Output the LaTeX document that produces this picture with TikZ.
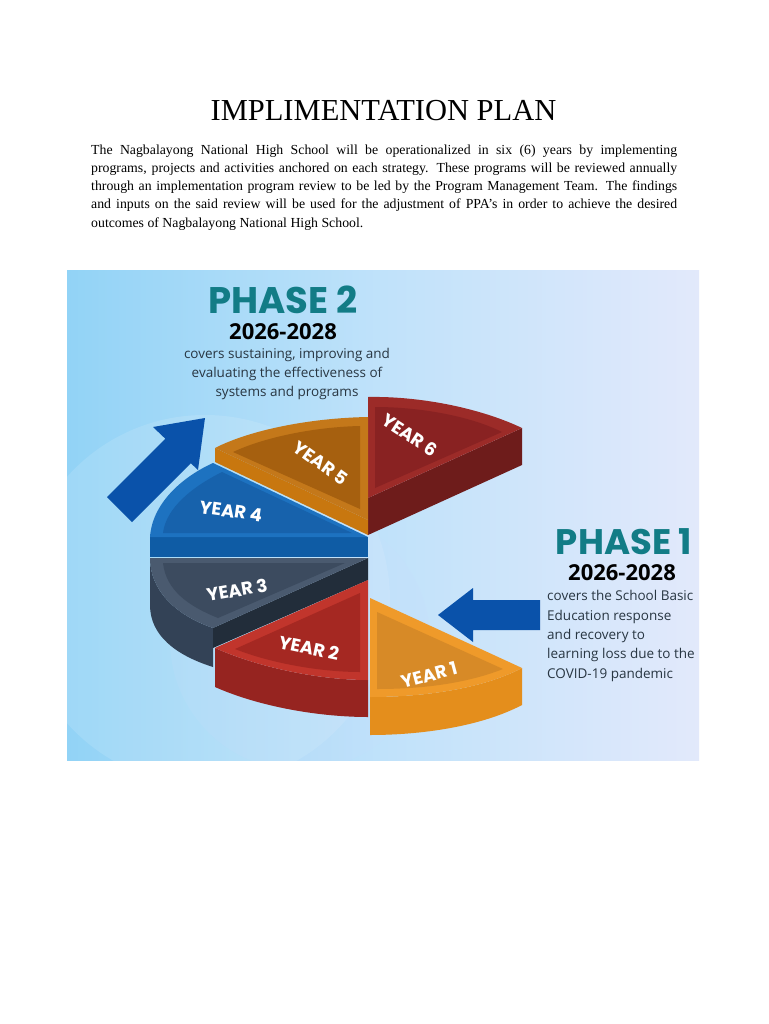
\documentclass[tikz,border=0pt]{standalone}
\usepackage{fontspec}
\setmainfont{Liberation Serif}
\newfontfamily\popfont{Poppins}
\newfontfamily\osfont{Open Sans}
\definecolor{teal2}{RGB}{18,124,134}
\definecolor{bgL}{RGB}{146,211,246}
\definecolor{bgM}{RGB}{192,226,250}
\definecolor{bgR}{RGB}{226,233,251}
\definecolor{arrowblue}{RGB}{10,82,170}
\definecolor{desc}{RGB}{40,54,66}
% pie colours
\definecolor{ysixrim}{RGB}{156,43,40}
\definecolor{ysixtop}{RGB}{137,34,34}
\definecolor{ysixside}{RGB}{110,28,27}
\definecolor{yfiverim}{RGB}{196,120,26}
\definecolor{yfivetop}{RGB}{166,96,15}
\definecolor{yfiveside}{RGB}{200,119,15}
\definecolor{yfourrim}{RGB}{29,114,192}
\definecolor{yfourtop}{RGB}{23,98,172}
\definecolor{yfourside}{RGB}{15,92,165}
\definecolor{ythreerim}{RGB}{74,90,111}
\definecolor{ythreetop}{RGB}{60,75,95}
\definecolor{ythreeside}{RGB}{51,66,86}
\definecolor{ythreerad}{RGB}{34,45,58}
\definecolor{ytworim}{RGB}{193,53,44}
\definecolor{ytwotop}{RGB}{165,40,34}
\definecolor{ytwoside}{RGB}{150,36,32}
\definecolor{yonerim}{RGB}{239,154,42}
\definecolor{yonetop}{RGB}{215,138,39}
\definecolor{yoneside}{RGB}{228,142,28}
\begin{document}
\begin{tikzpicture}[x=1pt,y=-1pt,
  bodyline/.style={inner sep=0pt,anchor=base west,font=\fontsize{13.8}{18}\selectfont},
  phasehead/.style={inner sep=0pt,text=teal2,font=\popfont\bfseries\fontsize{37}{37}\selectfont},
  phaseyears/.style={inner sep=0pt,text=black,font=\osfont\bfseries\fontsize{22}{22}\selectfont},
  phasedesc/.style={inner sep=0pt,text=desc,font=\osfont\fontsize{13.5}{19.3}\selectfont},
  yearlbl/.style={inner sep=0pt,text=white,font=\popfont\bfseries\fontsize{18}{18}\selectfont},
  bigarrow/.style={fill=arrowblue}
]
\useasboundingbox (0,0) rectangle (768,1024);
\fill[white] (0,0) rectangle (768,1024);

% ---- title and paragraph ----
\node[inner sep=0pt,anchor=base,font=\fontsize{30.5}{30.5}\selectfont] (title) at (383.5,121) {IMPLIMENTATION PLAN};
\node[bodyline] (b1) at (91,155) {\makebox[586pt][s]{The Nagbalayong National High School will be operationalized in six (6) years by implementing}};
\node[bodyline] (b2) at (91,173) {\makebox[586pt][s]{programs, projects and activities anchored on each strategy. These programs will be reviewed annually}};
\node[bodyline] (b3) at (91,191) {\makebox[586pt][s]{through an implementation program review to be led by the Program Management Team. The findings}};
\node[bodyline] (b4) at (91,209) {\makebox[586pt][s]{and inputs on the said review will be used for the adjustment of PPA’s in order to achieve the desired}};
\node[bodyline] (b5) at (91,227) {outcomes of Nagbalayong National High School.};

% ---- infographic background ----
\shade[left color=bgL,right color=bgR,middle color=bgM] (67,270) rectangle (699,760);
\begin{scope}
  \clip (67,270) rectangle (699,760);
  \fill[white,opacity=0.12] (205,600) circle (185);
  \fill[bgL!80!blue!40!white,opacity=0.18] (300,640) circle (130);
\end{scope}

% ---- Year 6 ----
\fill[ysixside] (522,428) -- (522,465) -- (368,535) -- (368,498) -- cycle;
\fill[ysixrim] (368,397) .. controls (420,396) and (480,408) .. (522,428) -- (368,498) -- cycle;
\fill[ysixtop] (375,407) .. controls (420,407) and (470,416) .. (502,432) -- (375,488) -- cycle;

% ---- Year 4 ----
\fill[yfourside] (150,537) -- (368,537) -- (368,557) -- (150,557) -- cycle;
\fill[yfourrim] (368,537) -- (213,463) .. controls (180,478) and (152,505) .. (150,537) -- cycle;
\fill[yfourtop] (352,533) -- (222,472) .. controls (192,487) and (166,508) .. (163,533) -- cycle;

% ---- Year 5 ----
\fill[yfiveside] (215,448) -- (215,462) -- (368,535) -- (368,520) -- cycle;
\fill[yfiverim] (215,448) .. controls (250,430) and (310,418) .. (368,417) -- (368,520) -- cycle;
\fill[yfivetop] (233,452) .. controls (265,437) and (315,427) .. (360,426) -- (360,509) -- cycle;

% ---- Year 3 ----
\fill[ythreeside] (150,558) .. controls (150,590) and (175,615) .. (213,628) -- (213,667) .. controls (175,655) and (150,635) .. (150,605) -- cycle;
\fill[ythreerad] (368,558) -- (368,580) -- (213,648) -- (213,628) -- cycle;
\fill[ythreerim] (150,558) -- (368,558) -- (213,628) .. controls (175,615) and (150,590) .. (150,558) -- cycle;
\fill[ythreetop] (163,563) -- (345,563) -- (218,618) .. controls (188,606) and (166,590) .. (163,563) -- cycle;

% ---- Year 2 ----
\fill[ytwoside] (215,648) .. controls (260,668) and (320,680) .. (368,680) -- (368,717) .. controls (320,717) and (260,707) .. (215,687) -- cycle;
\fill[ytworim] (368,580) -- (215,648) .. controls (260,668) and (320,680) .. (368,680) -- cycle;
\fill[ytwotop] (360,593) -- (235,649) .. controls (270,663) and (320,672) .. (360,672) -- cycle;

% ---- Year 1 ----
\fill[yoneside] (522,668) -- (522,705) .. controls (480,727) and (420,735) .. (370,735) -- (370,697) .. controls (420,697) and (480,690) .. (522,668) -- cycle;
\fill[yonerim] (370,598) -- (522,668) .. controls (480,690) and (420,697) .. (370,697) -- cycle;
\fill[yonetop] (377,612) -- (503,669) .. controls (465,684) and (420,689) .. (377,689) -- cycle;

% ---- arrows ----
\fill[bigarrow] (205,418) -- (198,470) -- (190.8,463.2) -- (132,522) -- (107,497) -- (165.3,438.7) -- (153,427) -- cycle;
\fill[bigarrow] (438,615) -- (473,588) -- (473,600) -- (540,600) -- (540,630) -- (473,630) -- (473,642) -- cycle;

% ---- year labels ----
\node[yearlbl,rotate=-33] (y6) at (410,435) {YEAR 6};
\node[yearlbl,rotate=-36] (y5) at (321,463) {YEAR 5};
\node[yearlbl,rotate=-8] (y4) at (231,511) {YEAR 4};
\node[yearlbl,rotate=10] (y3) at (237,590) {YEAR 3};
\node[yearlbl,rotate=-12] (y2) at (309,648) {YEAR 2};
\node[yearlbl,rotate=15] (y1) at (429,675) {YEAR 1};

% ---- phase texts ----
\node[phasehead,anchor=base] (p2h) at (283,313) {PHASE 2};
\node[phaseyears,anchor=base] (p2y) at (283,339) {2026-2028};
\node[phasedesc,align=center] (p2d) at (287,374) {covers sustaining, improving and\\evaluating the effectiveness of\\systems and programs};

\node[phasehead,anchor=base,font=\popfont\bfseries\fontsize{35.5}{35.5}\selectfont] (p1h) at (624,554) {PHASE 1};
\node[phaseyears,anchor=base] (p1y) at (622,580) {2026-2028};
\node[phasedesc,align=left,anchor=west] (p1d) at (547,636) {covers the School Basic\\Education response\\and recovery to\\learning loss due to the\\COVID-19 pandemic};
\end{tikzpicture}
\end{document}
